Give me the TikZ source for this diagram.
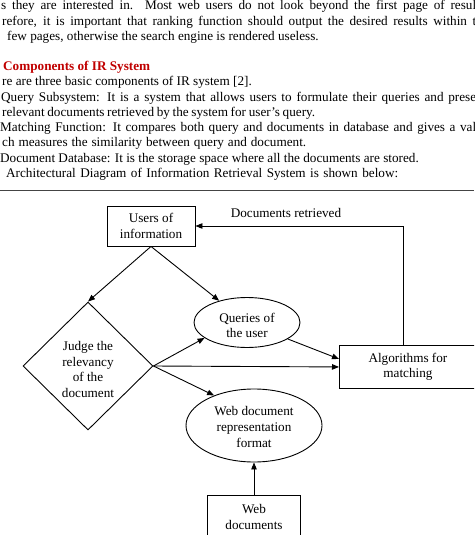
\documentclass[tikz,border=0pt]{standalone}
\usepackage{fontspec}
\setmainfont{Liberation Serif}
\usetikzlibrary{shapes.geometric,arrows.meta}
\definecolor{headred}{HTML}{C00000}
\definecolor{rulegray}{HTML}{444444}
\begin{document}
\begin{tikzpicture}[x=1pt,y=-1pt,
  pg/.style={anchor=base west,inner sep=0pt,font=\fontsize{13.2}{15.2}\selectfont},
  hd/.style={pg,text=headred,font=\fontsize{13.2}{15.2}\selectfont\bfseries},
  dg/.style={align=center,font=\fontsize{13.2}{15.6}\selectfont,inner sep=0pt},
  boxn/.style={dg,draw,line width=0.9pt},
  ell/.style={dg,draw,ellipse,line width=0.9pt},
  dia/.style={dg,draw,diamond,line width=0.9pt},
  arr/.style={-{Triangle[length=7pt,width=5.5pt]},line width=0.9pt},
  ln/.style={line width=0.9pt}]
\useasboundingbox (0,0) rectangle (474,535);
\clip (0,0) rectangle (474,535);
% page text
\node[pg] (l1) at (1,10) {\makebox[475pt][s]{s they are interested in. Most web users do not look beyond the first page of resul}};
\node[pg] (l2) at (2,25.25) {\makebox[474pt][s]{refore, it is important that ranking function should output the desired results within t}};
\node[pg] (l3) at (7,40.5) {few pages, otherwise the search engine is rendered useless.};
\node[hd] (l4) at (3,70.5) {Components of IR System};
\node[pg] (l5) at (2,85.75) {re are three basic components of IR system [2].};
\node[pg] (l6) at (1,101) {\makebox[475pt][s]{Query Subsystem: It is a system that allows users to formulate their queries and prese}};
\node[pg] (l7) at (2,116.25) {\makebox[313pt][s]{relevant documents retrieved by the system for user’s query.}};
\node[pg] (l8) at (0,131.5) {\makebox[476pt][s]{Matching Function: It compares both query and documents in database and gives a val}};
\node[pg] (l9) at (2,146.75) {\makebox[304pt][s]{ch measures the similarity between query and document.}};
\node[pg] (l10) at (0,162) {Document Database: It is the storage space where all the documents are stored.};
\node[pg] (l11) at (6,177.25) {\makebox[392pt][s]{Architectural Diagram of Information Retrieval System is shown below:}};
\draw[line width=1pt,rulegray] (0,190.7) -- (474,190.7);
% diagram
\node[boxn,minimum width=88pt,minimum height=40pt] (users) at (151,226) {Users of\\information};
\node[dg] (docret) at (286,213) {Documents retrieved};
\node[boxn,minimum width=137pt,minimum height=43pt,anchor=north west] (alg) at (339,345) {Algorithms for\\matching};
\node[dia,minimum width=130pt,minimum height=128pt] (judge) at (88,366) {};
\node[dg] (judgetxt) at (88,369.5) {Judge the\\relevancy\\of the\\document};
\node[ell,minimum width=106pt,minimum height=50pt] (queries) at (247,322.5) {};
\node[dg] (qtxt) at (247,325.5) {Queries of\\the user};
\node[ell,minimum width=136pt,minimum height=73pt] (webrep) at (254,425.5) {};
\node[dg] (wrtxt) at (254,427) {Web document\\representation\\format};
\node[boxn,minimum width=93pt,minimum height=41pt] (webdocs) at (254,515.5) {};
\node[dg] (wdtxt) at (254,517) {Web\\documents};
\coordinate (fbk) at (403,226);
\draw[arr] (users.south) -- (judge.north);
\draw[arr] (users.south) -- (queries.142);
\draw[arr] (judge.east) -- (queries.200);
\draw[arr] (queries.-22) -- ([yshift=8pt]alg.west);
\draw[arr] (judge.east) -- (alg.west);
\draw[arr] (judge.east) -- (webrep.143);
\draw[arr] (webdocs.north) -- (webrep.south);
\draw[arr] (alg.north -| fbk) -- (fbk) -- (users.east);
\end{tikzpicture}
\end{document}
